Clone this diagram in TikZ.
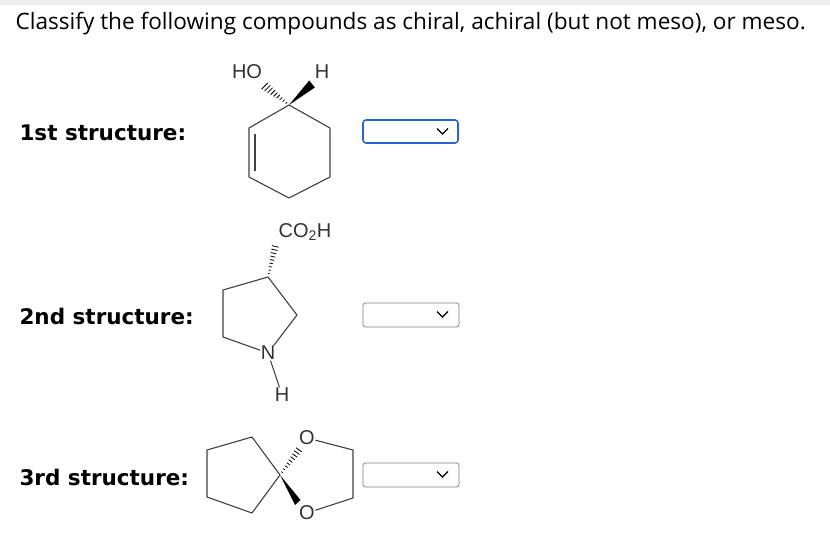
\documentclass[tikz,border=0pt]{standalone}
\usepackage{fontspec}
\usetikzlibrary{calc}
\setmainfont{Liberation Sans}
\newfontfamily\titlefont{Open Sans}
\newfontfamily\labfont{DejaVu Sans}
\begin{document}
\begin{tikzpicture}[x=1pt,y=-1pt,
  bond/.style={line width=1.1pt,color=black!75},
  atom/.style={font=\fontsize{20}{20}\selectfont,inner sep=0.5pt,text=black!80},
  lab/.style={anchor=west,font=\labfont\bfseries\fontsize{21.5}{22}\selectfont},
  dd/.style={draw=black!50,line width=0.8pt,rounded corners=2.5pt},
  ddblue/.style={draw={rgb,255:red,40;green,100;blue,210},line width=1.6pt,rounded corners=3pt},
  chev/.style={line width=1.1pt,line join=miter}]
\useasboundingbox (0,0) rectangle (830,548);
\fill[black!7] (0,0) rectangle (830,5);
\node[anchor=west,font=\titlefont\fontsize{22.6}{23}\selectfont] (title) at (12,24) {Classify the following compounds as chiral, achiral (but not meso), or meso.};
\node[lab] (l1) at (16,133) {1st structure:};
\node[lab] (l2) at (16,316) {2nd structure:};
\node[lab] (l3) at (16,477) {3rd structure:};
% structure 1
\coordinate (a1) at (289,105); \coordinate (a2) at (330,128); \coordinate (a3) at (330,177);
\coordinate (a4) at (289,198); \coordinate (a5) at (249,177); \coordinate (a6) at (249,128);
\draw[bond,line join=round] (a1)--(a2)--(a3)--(a4)--(a5)--(a6)--cycle;
\coordinate (d1) at (255,134); \coordinate (d2) at (255,171);
\draw[bond] (d1)--(d2);
\node[atom] (ho) at (247,72) {HO};
\node[atom] (h1) at (322,72) {H};
\coordinate (w1) at (312,84);
\fill[black] (a1) -- ($(w1)+(-2.8,-3.5)$) -- ($(w1)+(2.8,3.5)$) -- cycle;
\foreach \t in {0.1,0.2,...,0.95}{
  \draw[line width=0.8pt] ($(a1)!\t!(262,84)+(-\t*3-0.4,\t*3+0.4)$) -- ($(a1)!\t!(262,84)+(\t*3+0.4,-\t*3-0.4)$);}
\draw[ddblue] (363,120) rectangle (458,143);
\draw[chev] (437,128.5) -- (442.5,134) -- (448,128.5);
% structure 2
\node[atom] (co) at (305,232) {CO\textsubscript{2}H};
\coordinate (b3) at (268,277); \coordinate (b2) at (297,315);
\node[atom] (n) at (268,353) {N};
\coordinate (b5) at (223,337); \coordinate (b4) at (223,290);
\draw[bond,line join=round] (n)--(b2)--(b3)--(b4)--(b5)--(n);
\node[atom] (hn) at (282,395) {H};
\draw[bond] (n)--(hn);
\foreach \t in {0.1,0.2,...,0.95}{
  \draw[line width=0.8pt] ($(b3)!\t!(276,243)+(-\t*3.3-0.4,-\t*0.9)$) -- ($(b3)!\t!(276,243)+(\t*3.3+0.4,\t*0.9)$);}
\draw[dd] (363,303) rectangle (459,327);
\draw[chev] (437,311.5) -- (442.5,317) -- (448,311.5);
% structure 3
\coordinate (s) at (280,475); \coordinate (c2) at (252,437); \coordinate (c3) at (207,450);
\coordinate (c4) at (207,497); \coordinate (c5) at (252,513);
\draw[bond,line join=round] (s)--(c2)--(c3)--(c4)--(c5)--cycle;
\node[atom] (o1) at (307,438) {O};
\node[atom] (o2) at (307,513) {O};
\coordinate (m1) at (353,450); \coordinate (m2) at (353,498);
\draw[bond,line join=round] (o1)--(m1)--(m2)--(o2);
\fill[black] (s) -- (300.5,500) -- (295,505) -- cycle;
\foreach \t in {0.1,0.2,...,0.95}{
  \draw[line width=0.8pt] ($(s)!\t!(301,447)+(-\t*2.8-0.4,-\t*2-0.3)$) -- ($(s)!\t!(301,447)+(\t*2.8+0.4,\t*2+0.3)$);}
\draw[dd] (363,463) rectangle (459,487);
\draw[chev] (437,471.5) -- (442.5,477) -- (448,471.5);
\end{tikzpicture}
\end{document}
